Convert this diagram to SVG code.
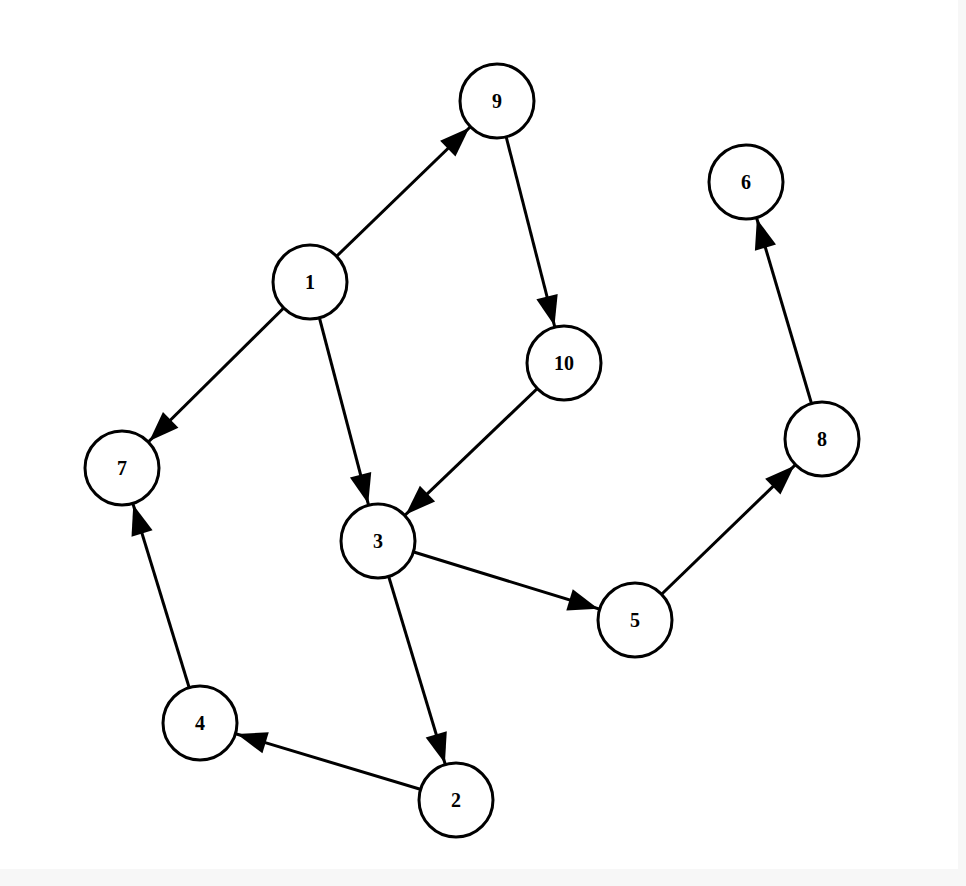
<svg xmlns="http://www.w3.org/2000/svg" width="966" height="886" viewBox="0 0 966 886">
<style>
.e{stroke:#000;stroke-width:3;fill:none;marker-end:url(#a)}
.n circle{fill:#fff;stroke:#000;stroke-width:3}
.n text{font-family:"Liberation Serif",serif;font-weight:bold;font-size:20px;text-anchor:middle;dominant-baseline:central}
</style>
<defs><marker id="a" markerUnits="userSpaceOnUse" markerWidth="40" markerHeight="30" refX="68.5" refY="0" orient="auto" overflow="visible" viewBox="0 -15 40 30"><path d="M0,-11 L30,0 L0,11 z" fill="#000"/></marker></defs>
<rect width="966" height="886" fill="#f7f7f7"/>
<rect width="958" height="869" fill="#fff"/>
<g id="edges">
<line class="e" x1="310" y1="282" x2="497" y2="101"/>
<line class="e" x1="310" y1="282" x2="122" y2="468"/>
<line class="e" x1="310" y1="282" x2="378" y2="541"/>
<line class="e" x1="497" y1="101" x2="564" y2="363"/>
<line class="e" x1="564" y1="363" x2="378" y2="541"/>
<line class="e" x1="378" y1="541" x2="635" y2="620"/>
<line class="e" x1="378" y1="541" x2="456" y2="800"/>
<line class="e" x1="635" y1="620" x2="822" y2="439"/>
<line class="e" x1="822" y1="439" x2="746" y2="182"/>
<line class="e" x1="456" y1="800" x2="200" y2="723"/>
<line class="e" x1="200" y1="723" x2="122" y2="468"/>
</g>
<g id="n1" class="n"><circle cx="310" cy="282" r="37"/><text x="310" y="282">1</text></g>
<g id="n9" class="n"><circle cx="497" cy="101" r="37"/><text x="497" y="101">9</text></g>
<g id="n6" class="n"><circle cx="746" cy="182" r="37"/><text x="746" y="182">6</text></g>
<g id="n10" class="n"><circle cx="564" cy="363" r="37"/><text x="564" y="363">10</text></g>
<g id="n8" class="n"><circle cx="822" cy="439" r="37"/><text x="822" y="439">8</text></g>
<g id="n7" class="n"><circle cx="122" cy="468" r="37"/><text x="122" y="468">7</text></g>
<g id="n3" class="n"><circle cx="378" cy="541" r="37"/><text x="378" y="541">3</text></g>
<g id="n5" class="n"><circle cx="635" cy="620" r="37"/><text x="635" y="620">5</text></g>
<g id="n4" class="n"><circle cx="200" cy="723" r="37"/><text x="200" y="723">4</text></g>
<g id="n2" class="n"><circle cx="456" cy="800" r="37"/><text x="456" y="800">2</text></g>
</svg>
